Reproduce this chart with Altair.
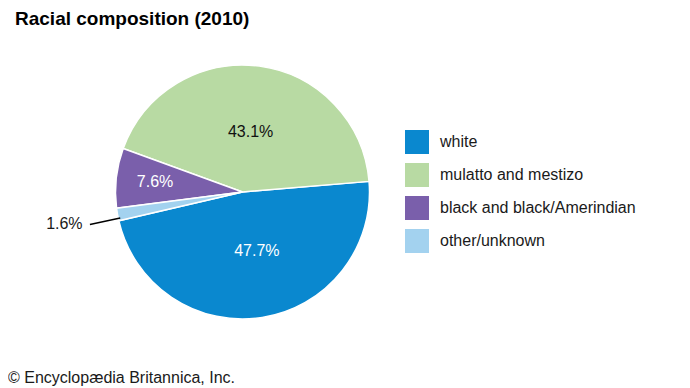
import math
import altair as alt
import pandas as pd

# ---- data -------------------------------------------------------------
categories = ["white", "mulatto and mestizo", "black and black/Amerindian", "other/unknown"]
shares = [47.7, 43.1, 7.6, 1.6]
labels = ["47.7%", "43.1%", "7.6%", "1.6%"]
colors = ["#0a88cf", "#b8daa3", "#7a5fab", "#a3d2ef"]
pie_order = ["white", "other/unknown", "black and black/Amerindian", "mulatto and mestizo"]

title_text = "Racial composition (2010)"
credit_text = "© Encyclopædia Britannica, Inc."

FONT = "Liberation Sans, Arial, Helvetica, sans-serif"
CX, CY = 234.5, 184
R = 127
START = math.radians(85.2)
LEADER_TILT = math.radians(-1.8)

df = pd.DataFrame({
    "category": categories,
    "share": shares,
    "label": labels,
    "rank": [pie_order.index(c) for c in categories],
})

theta_scale = alt.Scale(domain=[0, 100], range=[START, START + 2 * math.pi])

base = (
    alt.Chart(df)
    .transform_window(cum="sum(share)", sort=[alt.SortField("rank")], frame=[None, 0])
    .transform_calculate(start="datum.cum - datum.share", mid="datum.cum - datum.share / 2")
)

arcs = base.mark_arc(stroke="white", strokeWidth=1.5, outerRadius=R).encode(
    theta=alt.Theta("start:Q", scale=theta_scale, stack=None),
    theta2="cum:Q",
    color=alt.Color(
        "category:N",
        scale=alt.Scale(domain=categories, range=colors),
        legend=alt.Legend(
            orient="none", legendX=397, legendY=122, title=None,
            symbolType="square", symbolSize=576, symbolStrokeWidth=0, symbolOpacity=1,
            labelFontSize=16, labelFont=FONT, labelColor="#1a1a1a", labelOffset=11,
            rowPadding=9, padding=0, labelLimit=400,
        ),
    ),
    x=alt.value(CX),
    y=alt.value(CY),
)


def label_layer(cat, radius, color, dx=0, dy=0):
    return (
        base.transform_filter(alt.datum.category == cat)
        .mark_text(radius=radius, font=FONT, fontSize=16, color=color, dx=dx, dy=dy,
                   align="center", baseline="middle")
        .encode(
            theta=alt.Theta("mid:Q", scale=theta_scale, stack=None),
            text="label:N",
            x=alt.value(CX),
            y=alt.value(CY),
        )
    )


lbl_white = label_layer("white", 60, "white", dx=5)
lbl_mul = label_layer("mulatto and mestizo", 61, "#111111")
lbl_black = label_layer("black and black/Amerindian", 88, "white")
lbl_other = label_layer("other/unknown", 181, "#1a1a1a")

leader = (
    base.transform_filter(alt.datum.category == "other/unknown")
    .transform_calculate(a=f"{START} + {LEADER_TILT} + datum.mid / 100 * 2 * PI")
    .transform_calculate(
        x1=f"{CX} + 125 * sin(datum.a)", y1=f"{CY} - 125 * cos(datum.a)",
        x2=f"{CX} + 156 * sin(datum.a)", y2=f"{CY} - 156 * cos(datum.a)",
    )
    .mark_rule(color="black", strokeWidth=1.5)
    .encode(
        x=alt.X("x1:Q", scale=None, axis=None),
        y=alt.Y("y1:Q", scale=None, axis=None),
        x2="x2:Q",
        y2="y2:Q",
    )
)

title = alt.Chart(pd.DataFrame({"t": [title_text]})).mark_text(
    font=FONT, fontSize=19, fontWeight="bold", color="black", align="left", baseline="alphabetic"
).encode(text="t:N", x=alt.value(7), y=alt.value(17))

credit = alt.Chart(pd.DataFrame({"t": [credit_text]})).mark_text(
    font=FONT, fontSize=16, color="#1a1a1a", align="left", baseline="alphabetic"
).encode(text="t:N", x=alt.value(0), y=alt.value(375))

chart = (
    alt.layer(arcs, lbl_white, lbl_mul, lbl_black, lbl_other, leader, title, credit)
    .properties(width=674, height=380, autosize=alt.AutoSizeParams(type="none"), padding=0)
    .configure_view(stroke=None)
)

chart.save("out.html", embed_options={"renderer": "svg", "actions": False})
